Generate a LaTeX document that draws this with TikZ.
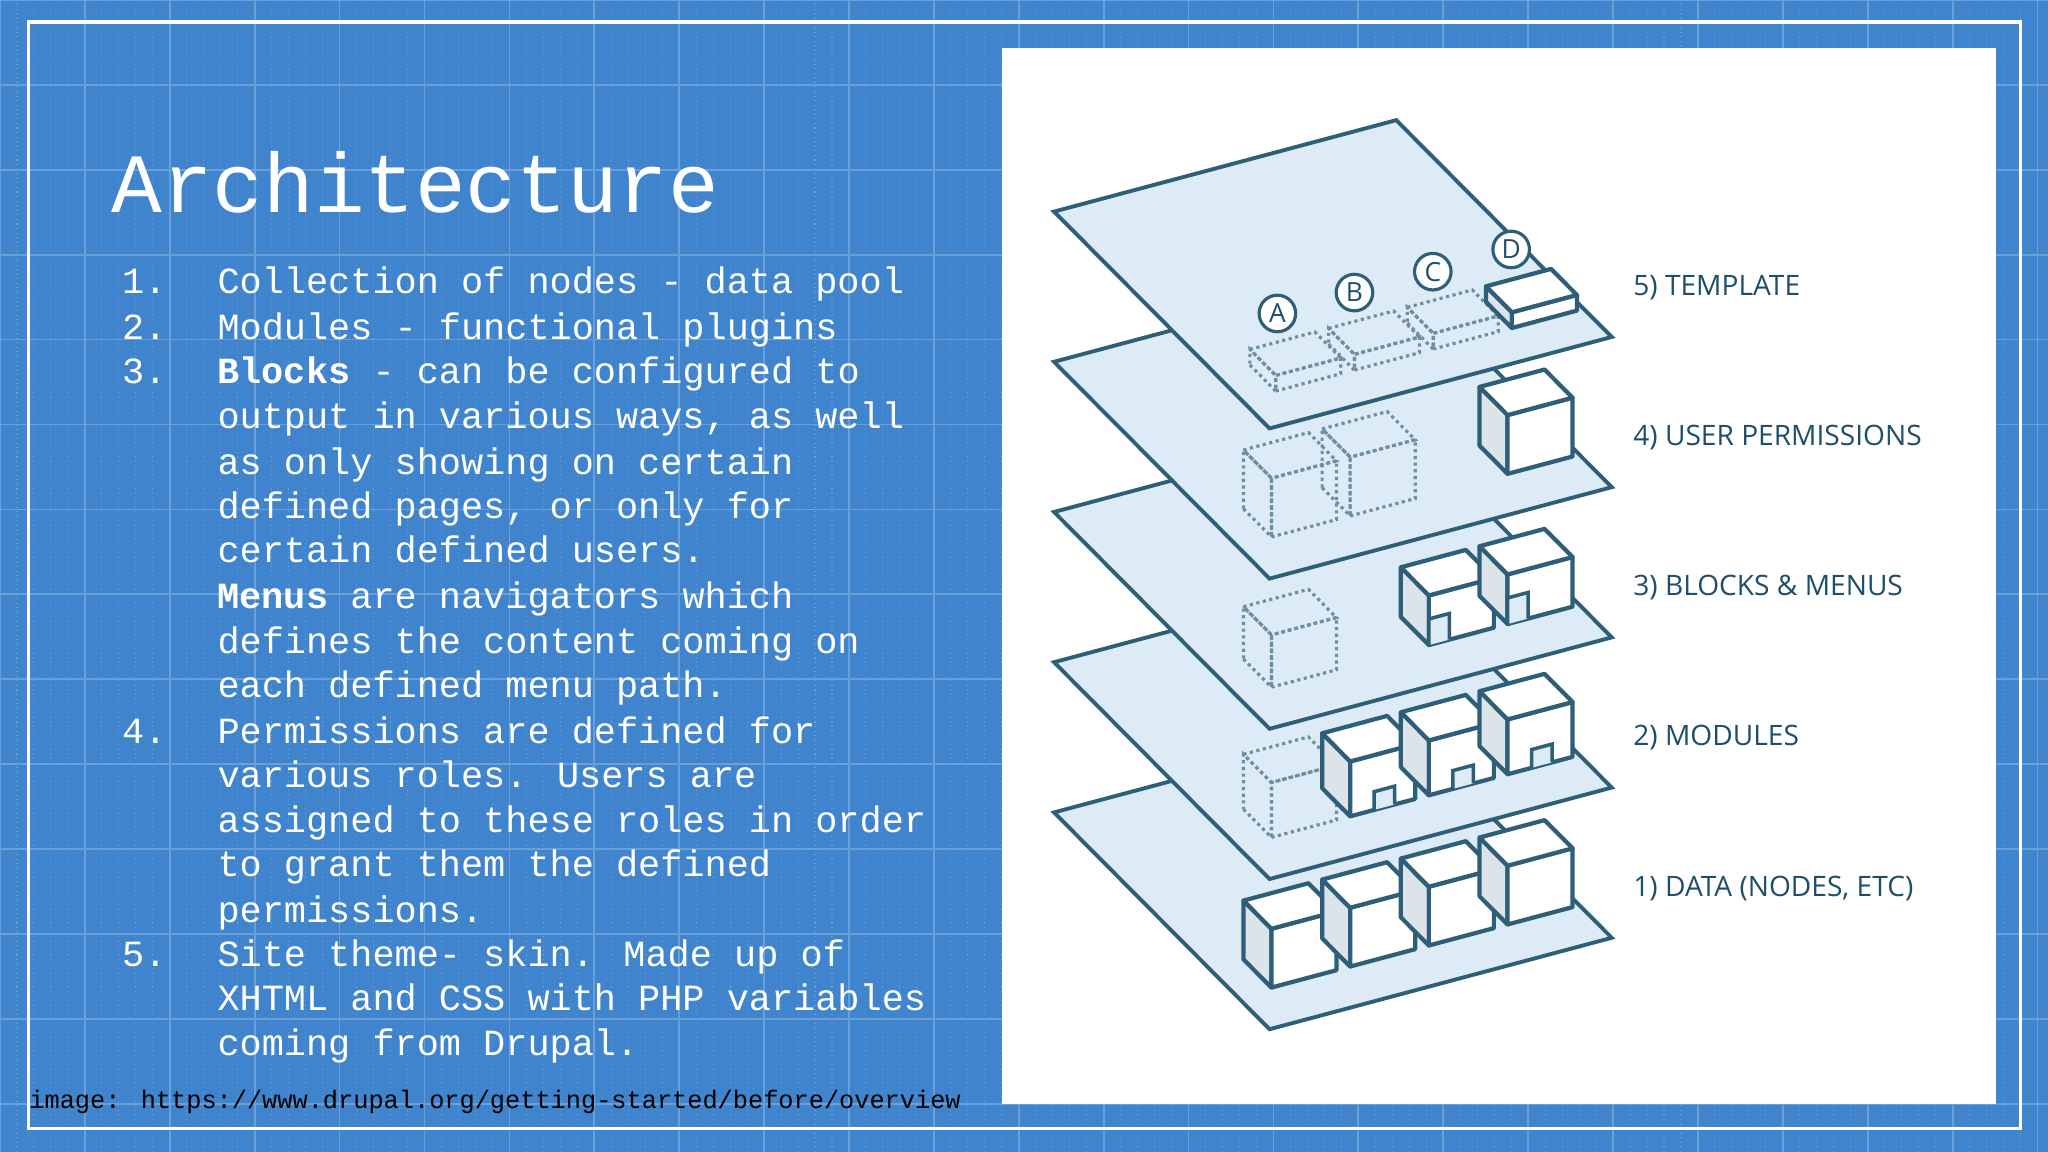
\documentclass[tikz,border=0pt]{standalone}
\usepackage{fontspec}
\setmainfont{Liberation Mono}
\newfontfamily\labfont{Open Sans}
\definecolor{bgblue}{HTML}{3F84CC}
\definecolor{gridc}{HTML}{6AA0DA}
\definecolor{planef}{HTML}{DDEBF7}
\definecolor{edgec}{HTML}{2F5F78}
\definecolor{sidec}{HTML}{DCE4EA}
\definecolor{labc}{HTML}{1F4E6B}
\newcommand\PP[4]{({807+262*(#2)+165*(#3)},{162+115*(#1)-70*(#2)+166*(#3)-(#4)})}
% layer, s0, s1, t0, t1, h, style
\newcommand\mybox[7]{%
 \draw[#7side] \PP{#1}{#2}{#4}{0} -- \PP{#1}{#2}{#5}{0} -- \PP{#1}{#2}{#5}{#6} -- \PP{#1}{#2}{#4}{#6} -- cycle;
 \draw[#7] \PP{#1}{#2}{#5}{0} -- \PP{#1}{#3}{#5}{0} -- \PP{#1}{#3}{#5}{#6} -- \PP{#1}{#2}{#5}{#6} -- cycle;
 \draw[#7] \PP{#1}{#2}{#4}{#6} -- \PP{#1}{#3}{#4}{#6} -- \PP{#1}{#3}{#5}{#6} -- \PP{#1}{#2}{#5}{#6} -- cycle;}
\newcommand\plane[1]{\draw[planestyle] \PP{#1}{0}{0}{0} -- \PP{#1}{1}{0}{0} -- \PP{#1}{1}{1}{0} -- \PP{#1}{0}{1}{0} -- cycle;}
\newcommand\notch[5]{% layer, s0, t1, w, h
 \draw[edgec, line width=1pt, fill=planef] \PP{#1}{#2}{#3}{0} -- \PP{#1}{#2}{#3}{#5} -- \PP{#1}{#2+#4}{#3}{#5} -- \PP{#1}{#2+#4}{#3}{0};}
\tikzset{
 planestyle/.style={draw=edgec, line width=1.1pt, fill=planef},
 solidbox/.style={draw=edgec, line width=1.2pt, fill=white, line join=round},
 solidboxside/.style={solidbox, fill=sidec},
 dotbox/.style={draw=edgec!70, line width=0.9pt, densely dotted},
 dotboxside/.style={dotbox},
 listtxt/.style={anchor=base west, text=white, font=\fontsize{10.5}{12}\selectfont, inner sep=0pt},
 lab/.style={anchor=west, text=labc, font=\labfont\fontsize{8}{9}\selectfont, inner sep=0pt},
 circ/.style={circle, draw=edgec, line width=0.9pt, fill=white, minimum size=10.4pt, inner sep=0pt, text=labc, font=\labfont\fontsize{7.5}{9}\selectfont}
}
\begin{document}
\begin{tikzpicture}[x=0.0130612cm, y=-0.0130612cm]
\fill[bgblue] (0,0) rectangle (1568,882);
\useasboundingbox (0,0) rectangle (1568,882);
\draw[gridc, line width=0.3pt, densely dotted] (0,0) grid[step=13] (1568,882);
\foreach \g in {0,65,...,1560} \draw[gridc, line width=0.5pt] (\g,0) -- (\g,882);
\foreach \g in {0,65,...,880} \draw[gridc, line width=0.5pt] (0,\g) -- (1568,\g);
\draw[white, line width=1pt] (22,17) rectangle (1547,864);
\fill[white] (767,37) rectangle (1528,845);
% title and list
\node[anchor=base west, text=white, font=\fontsize{24}{28}\selectfont, inner sep=0pt] (title) at (85,163) {Architecture};
\foreach \n/\y in {1./217, 2./252, 3./286, 4./561, 5./732}
  \node[listtxt] at (93,\y+8) {\n};
\node[listtxt] (l1) at (166,225) {Collection of nodes - data pool};
\node[listtxt] (l2) at (166,260) {Modules - functional plugins};
\node[listtxt] (l3) at (166,294) {\textbf{Blocks} - can be configured to};
\node[listtxt] (l4) at (166,328) {output in various ways, as well};
\node[listtxt] (l5) at (166,363) {as only showing on certain};
\node[listtxt] (l6) at (166,397) {defined pages, or only for};
\node[listtxt] (l7) at (166,431) {certain defined users.};
\node[listtxt] (l8) at (166,466) {\textbf{Menus} are navigators which};
\node[listtxt] (l9) at (166,500) {defines the content coming on};
\node[listtxt] (l10) at (166,534) {each defined menu path.};
\node[listtxt] (l11) at (166,569) {Permissions are defined for};
\node[listtxt] (l12) at (166,603) {various roles. Users are};
\node[listtxt] (l13) at (166,637) {assigned to these roles in order};
\node[listtxt] (l14) at (166,671) {to grant them the defined};
\node[listtxt] (l15) at (166,706) {permissions.};
\node[listtxt] (l16) at (166,740) {Site theme- skin. Made up of};
\node[listtxt] (l17) at (166,774) {XHTML and CSS with PHP variables};
\node[listtxt] (l18) at (166,808) {coming from Drupal.};
\node[anchor=base west, text=black, font=\fontsize{7.2}{9}\selectfont, inner sep=0pt] (foot) at (22,849) {image: https://www.drupal.org/getting-started/before/overview};
% diagram: bottom to top
\plane{4}
\foreach \s in {0.1,0.33,0.56,0.79} {\mybox{4}{\s}{\s+0.19}{0.72}{0.85}{45}{solidbox}}
\plane{3}
\mybox{3}{0.1}{0.29}{0.72}{0.85}{42}{dotbox}
\foreach \s in {0.33,0.56,0.79} {\mybox{3}{\s}{\s+0.19}{0.72}{0.85}{42}{solidbox}\notch{3}{\s+0.07}{0.85}{0.06}{14}}
\plane{2}
\mybox{2}{0.1}{0.29}{0.72}{0.85}{40}{dotbox}
\foreach \s in {0.56,0.79} {\mybox{2}{\s}{\s+0.19}{0.72}{0.85}{38}{solidbox}\notch{2}{\s}{0.85}{0.06}{20}}
\plane{1}
\mybox{1}{0.1}{0.29}{0.72}{0.85}{45}{dotbox}
\mybox{1}{0.33}{0.52}{0.72}{0.85}{45}{dotbox}
\mybox{1}{0.79}{0.98}{0.72}{0.85}{45}{solidbox}
\plane{0}
\foreach \s in {0.1,0.33,0.56} {\mybox{0}{\s}{\s+0.19}{0.75}{0.87}{12}{dotbox}}
\mybox{0}{0.79}{0.98}{0.75}{0.87}{12}{solidbox}
\node[circ] (cA) at (978,240) {A};
\node[circ] (cB) at (1037,224) {B};
\node[circ] (cC) at (1097,208) {C};
\node[circ] (cD) at (1157,191) {D};
\node[lab] (t5) at (1250,220) {5) TEMPLATE};
\node[lab] (t4) at (1250,335) {4) USER PERMISSIONS};
\node[lab] (t3) at (1250,450) {3) BLOCKS \& MENUS};
\node[lab] (t2) at (1250,565) {2) MODULES};
\node[lab] (t1) at (1250,680) {1) DATA (NODES, ETC)};
\end{tikzpicture}
\end{document}
